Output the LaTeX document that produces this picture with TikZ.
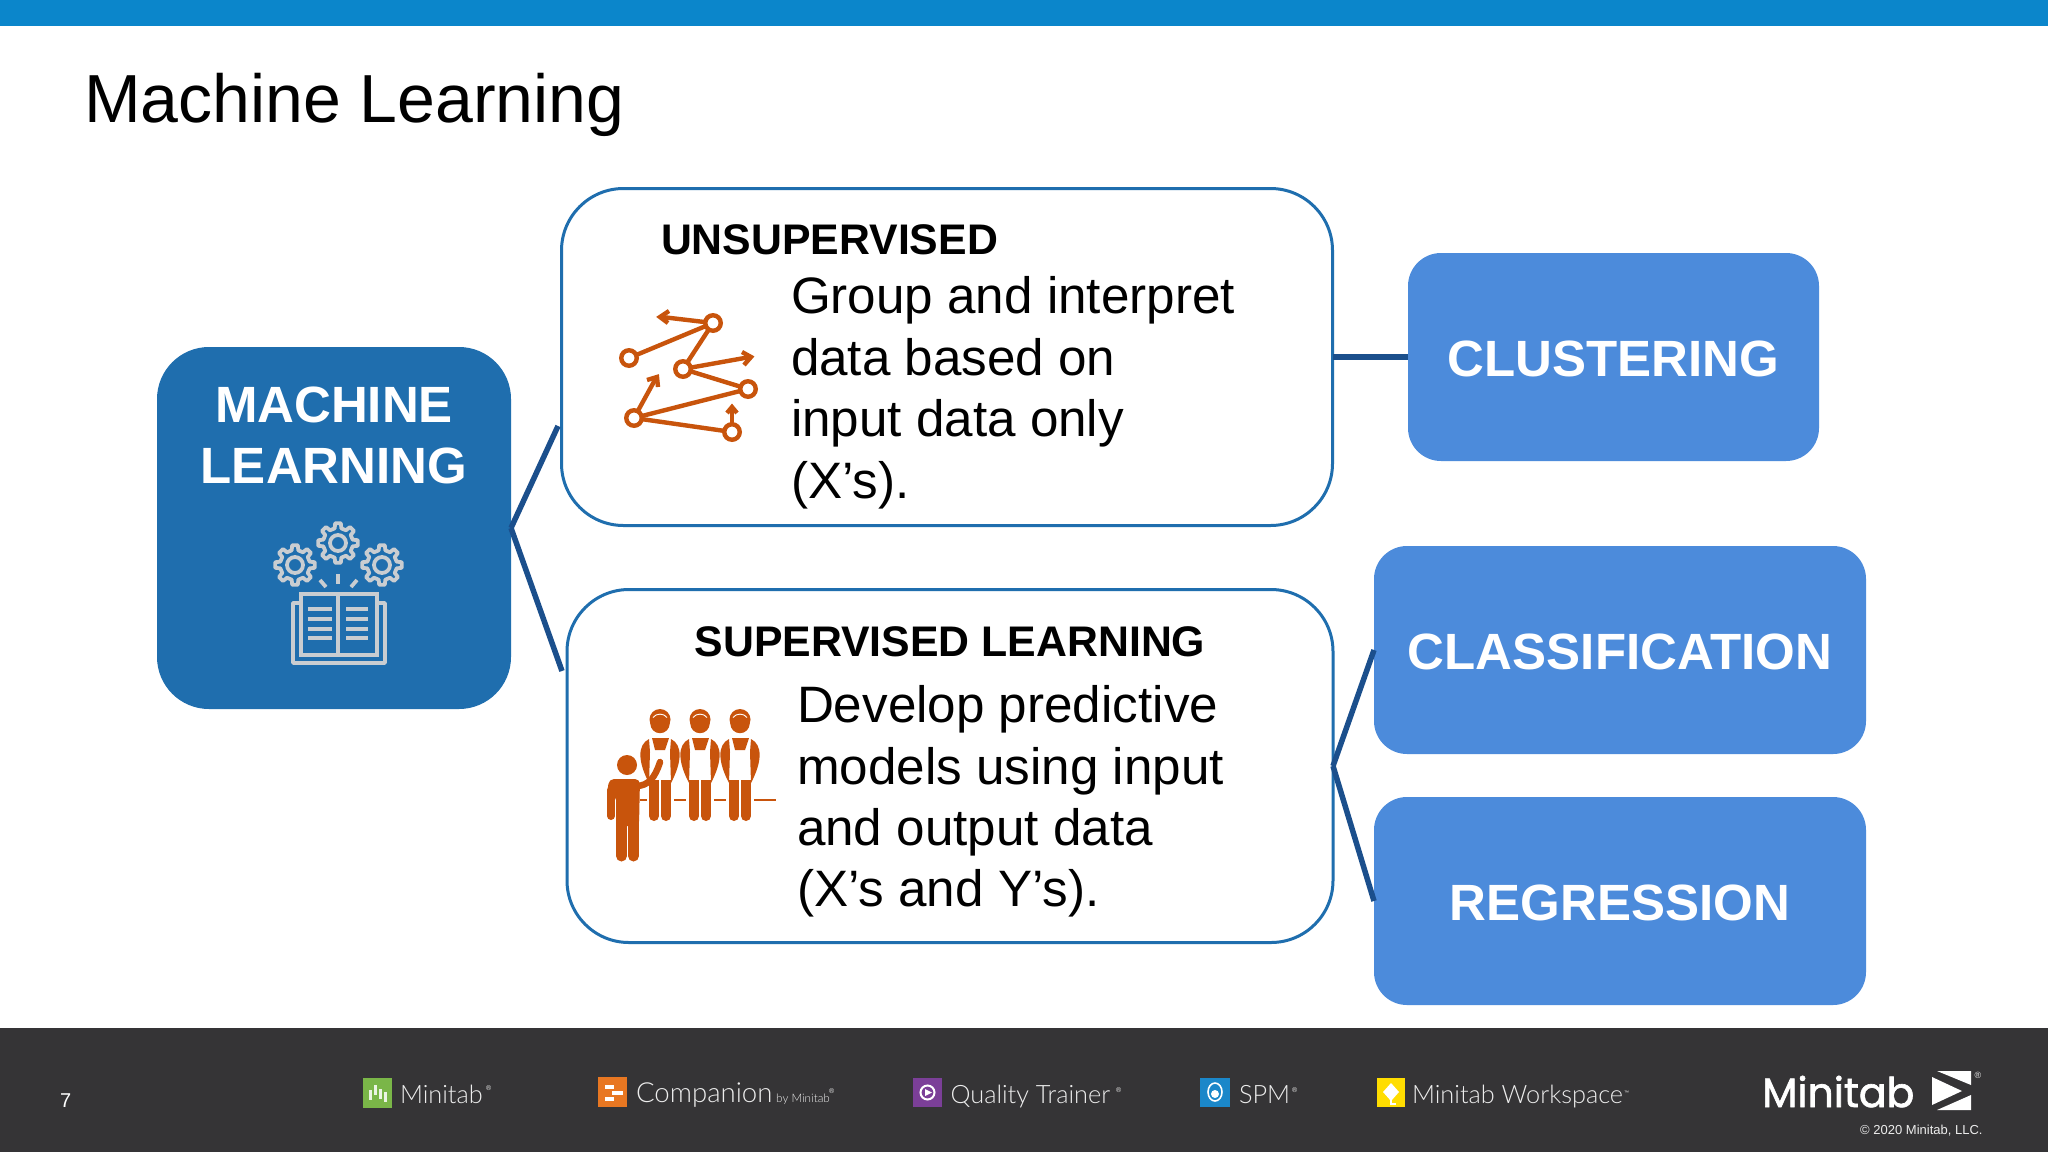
\documentclass[tikz,border=0pt]{standalone}
\usepackage{fontspec}
\setmainfont{Liberation Sans}
\newfontfamily\lato{Lato Light}
\newfontfamily\pop[FakeBold=1.6]{Poppins}
\usetikzlibrary{calc}
\newcommand{\pxf}[1]{\fontsize{#1}{#1}\selectfont}
\definecolor{topbar}{HTML}{0B86CB}
\definecolor{mlblue}{HTML}{1F6EAE}
\definecolor{boxblue}{HTML}{4C8BDB}
\definecolor{wire}{HTML}{1B4F8C}
\definecolor{rust}{HTML}{C8540C}
\definecolor{iconGrey}{HTML}{C9CDD1}
\definecolor{foot}{HTML}{353436}
\definecolor{footText}{HTML}{EDEDED}
\definecolor{lgreen}{RGB}{122,182,72}
\definecolor{lorange}{RGB}{232,119,34}
\definecolor{lpurple}{RGB}{123,63,152}
\definecolor{lblue}{RGB}{27,135,201}
\definecolor{lyellow}{RGB}{255,221,0}
\tikzset{
  x=1pt,y=-1pt,
  bigbox/.style={draw=mlblue,line width=3pt,fill=white,rounded corners=62pt,inner sep=0,outer sep=0},
  bluebox/.style={fill=boxblue,rounded corners=33pt,inner sep=0,outer sep=0},
  mlbox/.style={fill=mlblue,rounded corners=52pt,inner sep=0,outer sep=0},
  label/.style={anchor=base west,inner sep=0,outer sep=0},
  clabel/.style={anchor=base,inner sep=0,outer sep=0},
  bluetext/.style={anchor=base,inner sep=0,outer sep=0,text=white,font=\bfseries\pxf{51}},
  heading/.style={font=\bfseries\pxf{42.8}},
  bodytext/.style={font=\pxf{51.2}},
  wirel/.style={draw=wire,line width=5.5pt,line cap=butt},
  grey/.style={draw=iconGrey,line width=3.8pt},
  netl/.style={draw=rust,line width=4.4pt},
  netn/.style={circle,draw=rust,line width=4.4pt,fill=white,minimum size=15.5pt,inner sep=0,outer sep=0},
  foottxt/.style={anchor=base west,inner sep=0,outer sep=0,text=footText,font=\lato\pxf{25.3}},
  regmark/.style={anchor=base west,inner sep=0,text=footText,font=\pxf{7}},
  gearicon/.pic={
    \draw[grey,line join=round] (-13:15)
      \foreach \a in {0,45,...,315}{ -- ({\a-13}:15) -- ({\a-8}:20) -- ({\a+8}:20) -- ({\a+13}:15) } -- cycle;
    \draw[grey] (0,0) circle[radius=8];
  },
  workericon/.pic={
    \fill[rust] (0,29.5) circle[radius=10.5];
    \fill[rust] (0,33.5) circle[radius=9.7];
    \draw[white,line width=0.9pt] (-7,27.5) .. controls (-4,23) and (4,23) .. (7,27.5);
    \fill[rust] (-8,48) -- (9,48) -- (5,60) -- (-5,60) -- cycle;
    \fill[rust] (-11,49) .. controls (-23,55) and (-22,72) .. (-11,93) -- (-10,62) -- cycle;
    \fill[rust] (11,49) .. controls (23,55) and (22,72) .. (11,93) -- (10,62) -- cycle;
    \draw[rust,line width=10pt,line cap=round] (-6,96) -- (-6,126);
    \draw[rust,line width=10pt,line cap=round] (6,96) -- (6,126);
    \fill[rust] (-11,90) rectangle (-1.2,100);
    \fill[rust] (1.2,90) rectangle (11,100);
  }
}
\begin{document}
\begin{tikzpicture}
\useasboundingbox (0,0) rectangle (2048,1152);
\fill[white] (0,0) rectangle (2048,1152);
\fill[topbar] (0,0) rectangle (2048,26);
\fill[foot] (0,1028) rectangle (2048,1152);

\node[label,font=\pxf{68}] (title) at (84,122) {Machine Learning};

% boxes
\node[mlbox,minimum width=354pt,minimum height=362pt] (ml) at (334,528) {};
\node[bigbox,minimum width=771pt,minimum height=337pt] (unsup) at (947,357) {};
\node[bigbox,minimum width=766pt,minimum height=353pt] (sup) at (950,766) {};
\node[bluebox,minimum width=411pt,minimum height=208pt] (clus) at (1613.5,357) {};
\node[bluebox,minimum width=492pt,minimum height=208pt] (clas) at (1620,650) {};
\node[bluebox,minimum width=492pt,minimum height=208pt] (regr) at (1620,901) {};
\node[bluetext] (clusT) at (1613.5,376.5) {CLUSTERING};
\node[bluetext] (clasT) at (1620,669.5) {CLASSIFICATION};
\node[bluetext] (regrT) at (1620,920.5) {REGRESSION};

% connectors
\coordinate (uin) at (558,426);
\coordinate (sin) at (562,671);
\draw[wirel] (ml.east) -- (uin);
\draw[wirel] (ml.east) -- (sin);
\draw[wirel] (unsup.east) -- (clus.west);
\draw[wirel] (sup.east) -- (clas.west);
\draw[wirel] (sup.east) -- (regr.west);

% ML label
\node[clabel,text=white,font=\bfseries\pxf{51}] (ml1) at (334,422) {MACHINE};
\node[clabel,text=white,font=\bfseries\pxf{51}] (ml2) at (334,483) {LEARNING};

% ML icon
\pic at (295,565) {gearicon};
\pic at (338,543) {gearicon};
\pic at (382,565) {gearicon};
\draw[grey] (320,580) -- (326,587);
\draw[grey] (338,574) -- (338,584);
\draw[grey] (357,580) -- (351,587);
\draw[grey] (301,594) rectangle (377,655);
\draw[grey] (338,594) -- (338,655);
\draw[grey,line join=round] (301,603) -- (293,603) -- (293,663) -- (385,663) -- (385,603) -- (377,603);
\foreach \yy in {609,619,629,638}{
  \draw[grey] (308,\yy) -- (332,\yy);
  \draw[grey] (346,\yy) -- (368,\yy);
}

% unsupervised text
\node[label,heading] (ut) at (661,254) {UNSUPERVISED};
\node[label,bodytext] (u1) at (791,313) {Group and interpret};
\node[label,bodytext] (u2) at (791,375) {data based on};
\node[label,bodytext] (u3) at (791,436) {input data only};
\node[label,bodytext] (u4) at (791,498) {(X’s).};

% network icon
\draw[netl] (713,323) -- (629,358);
\draw[netl] (713,323) -- (683,369);
\draw[netl] (683,369) -- (748,389);
\draw[netl] (748,389) -- (634,418);
\draw[netl] (634,418) -- (732,432);
\draw[netl] (713,323) -- (662,317);
\draw[netl,line join=miter] (669,311) -- (660,317) -- (668,323);
\draw[netl] (683,369) -- (750,357);
\draw[netl] (742,352) -- (751,357) -- (744,365);
\draw[netl] (634,418) -- (656,378);
\draw[netl] (647,380) -- (657,377) -- (658,387);
\draw[netl] (732,432) -- (732,408);
\draw[netl] (727,413) -- (732,407) -- (737,413);
\node[netn] (n1) at (713,323) {};
\node[netn] (n2) at (629,358) {};
\node[netn] (n3) at (683,369) {};
\node[netn] (n4) at (748,389) {};
\node[netn] (n5) at (634,418) {};
\node[netn] (n6) at (732,432) {};

% supervised text
\node[clabel,heading] (st) at (950,656) {SUPERVISED LEARNING};
\node[label,bodytext] (s1) at (797,722) {Develop predictive};
\node[label,bodytext] (s2) at (797,784) {models using input};
\node[label,bodytext] (s3) at (797,845) {and output data};
\node[label,bodytext] (s4) at (797,906) {(X’s and Y’s).};

% workers icon
\draw[rust,line width=2pt] (640,800) -- (647,800);
\draw[rust,line width=2pt] (674,800) -- (686,800);
\draw[rust,line width=2pt] (714,800) -- (726,800);
\draw[rust,line width=2pt] (754,800) -- (776,800);
\pic at (660,690) {workericon};
\pic at (700,690) {workericon};
\pic at (740,690) {workericon};
\fill[rust] (627,765) circle[radius=10];
\fill[rust,rounded corners=5pt] (607,795) -- (609,779) -- (640,779) -- (639,826) -- (616,826) -- (616,795) -- cycle;
\draw[rust,line width=8pt,line cap=round] (611,790) -- (611,816);
\draw[rust,line width=6.5pt,line cap=round] (636,786) .. controls (648,786) and (655,778) .. (660,762);
\draw[rust,line width=11pt,line cap=round] (621.5,822) -- (621.5,856);
\draw[rust,line width=11pt,line cap=round] (633.5,822) -- (633.5,856);

% footer
\node[anchor=base west,inner sep=0,text=white,font=\pxf{20}] (pg) at (60,1107) {7};

\fill[lgreen] (363,1078) rectangle (392,1108);
\foreach \bx/\bt in {369/1090,374/1085,379/1089,384/1092}{\fill[white,opacity=.85] (\bx,\bt) rectangle ++(3,10);}
\node[foottxt] (f1) at (400,1103) {Minitab};
\node[regmark] (r1) at (486,1090) {®};

\fill[lorange] (598,1077) rectangle (627,1107);
\fill[white] (605,1085) rectangle (614,1089);
\fill[white] (612,1091) rectangle (623,1095);
\fill[white] (605,1097) rectangle (614,1101);
\node[foottxt,font=\lato\pxf{27.6}] (f2) at (636,1102) {Companion};
\node[anchor=base west,inner sep=0,text=footText,font=\lato\pxf{11.7}] (f2b) at (776,1102) {by Minitab};
\node[regmark] (r2) at (829,1093) {®};

\fill[lpurple] (913,1078) rectangle (942,1107);
\draw[white,line width=2pt] (927.5,1092.5) circle[radius=7];
\fill[white] (925,1089) -- (932,1092.5) -- (925,1096) -- cycle;
\node[foottxt] (f3) at (950.5,1103) {Quality Trainer};
\node[regmark] (r3) at (1116,1092) {®};

\fill[lblue] (1200,1078) rectangle (1230,1107);
\draw[white,line width=1.6pt] (1215,1092) circle[x radius=7,y radius=9];
\fill[white] (1215,1094) circle[radius=4];
\node[foottxt] (f4) at (1239,1103) {SPM};
\node[regmark] (r4) at (1292,1092) {®};

\fill[lyellow] (1377,1078) rectangle (1405,1107);
\fill[white] (1391,1083) -- (1399,1092) -- (1391,1101) -- (1383,1092) -- cycle;
\draw[white,line width=1.2pt] (1391,1099) -- (1391,1104) -- (1396,1104);
\node[foottxt] (f5) at (1412,1103) {Minitab Workspace};
\node[anchor=base west,inner sep=0,text=footText,font=\pxf{5}] (r5) at (1624,1094) {™};

\node[anchor=base west,inner sep=0,text=white,font=\pop\pxf{41}] (logo) at (1762,1107) {Minitab};
\fill[white] (1937,1071) -- (1971,1071) -- (1971,1085) -- cycle;
\fill[white] (1932,1077) -- (1962,1091) -- (1932,1105) -- cycle;
\fill[white] (1971,1095) -- (1971,1110) -- (1937,1110) -- cycle;
\node[anchor=center,inner sep=0,text=footText,font=\pxf{9}] (r6) at (1978,1075) {®};
\node[anchor=base west,inner sep=0,text=footText,font=\pxf{13}] (copy) at (1860,1134) {© 2020 Minitab, LLC.};
\end{tikzpicture}
\end{document}
